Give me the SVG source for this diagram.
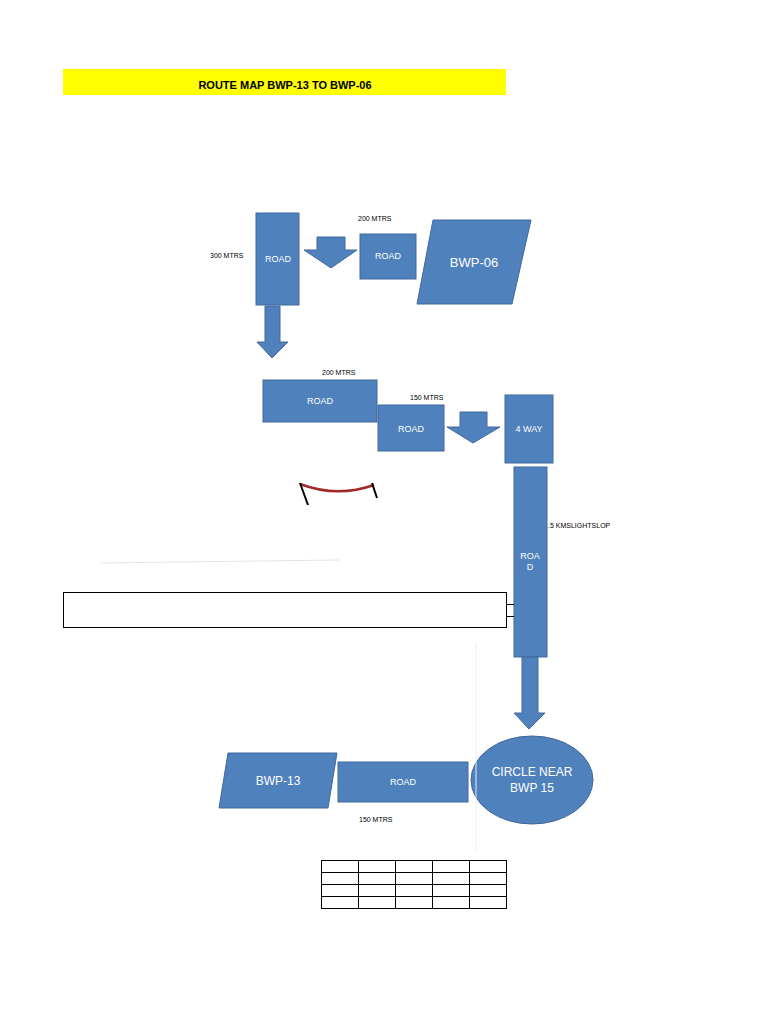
<svg xmlns="http://www.w3.org/2000/svg" width="768" height="1024" viewBox="0 0 768 1024">
<style>
.s{fill:#4f81bd;stroke:#41699b;stroke-width:1}
.w{fill:#fff;font-family:"Liberation Sans",Arial,sans-serif;text-anchor:middle}
.l{fill:#000;font-family:"Liberation Sans",Arial,sans-serif;font-size:7px}
.g{fill:none;stroke:#000;stroke-width:1}
</style>
<rect width="768" height="1024" fill="#fff"/>
<g id="title"><rect x="63" y="69" width="443" height="26" fill="#ffff00"/><text x="285" y="89" font-family="Liberation Sans,Arial,sans-serif" font-size="11" font-weight="bold" text-anchor="middle">ROUTE MAP BWP-13 TO BWP-06</text></g>
<g id="road1"><rect class="s" x="256" y="213" width="43" height="92"/><text class="w" x="278" y="262" font-size="9">ROAD</text></g>
<text class="l" x="210" y="258">300 MTRS</text>
<g id="road2"><rect class="s" x="360" y="234" width="56" height="45"/><text class="w" x="388" y="259" font-size="9">ROAD</text></g>
<text class="l" x="358" y="221">200 MTRS</text>
<g id="bwp06"><polygon class="s" points="433,220 531,220 512,304 417,304"/><text class="w" x="474" y="267" font-size="13">BWP-06</text></g>
<g id="road3"><rect class="s" x="263" y="380" width="114" height="42"/><text class="w" x="320" y="404" font-size="9">ROAD</text></g>
<text class="l" x="322" y="375">200 MTRS</text>
<g id="road4"><rect class="s" x="378" y="405" width="66" height="46"/><text class="w" x="411" y="432" font-size="9">ROAD</text></g>
<text class="l" x="410" y="400">150 MTRS</text>
<g id="fourway"><rect class="s" x="505" y="395" width="48" height="68"/><text class="w" x="529" y="432" font-size="9">4 WAY</text></g>
<g id="road5"><rect class="s" x="514" y="467" width="33" height="190"/><text class="w" x="530" y="559" font-size="9">ROA</text><text class="w" x="530" y="570" font-size="9">D</text></g>
<text class="l" x="548" y="528">.5 KMSLIGHTSLOP</text>
<g id="circle"><ellipse class="s" cx="532" cy="780" rx="61" ry="44"/><text class="w" x="532" y="776" font-size="12">CIRCLE NEAR</text><text class="w" x="532" y="792" font-size="12">BWP 15</text></g>
<g id="road6"><rect class="s" x="338" y="762" width="130" height="40"/><text class="w" x="403" y="785" font-size="9">ROAD</text></g>
<text class="l" x="359" y="822">150 MTRS</text>
<g id="bwp13"><polygon class="s" points="228,753 337,753 328,808 219,808"/><text class="w" x="278" y="785" font-size="12">BWP-13</text></g>
<g id="connectors">
<polygon class="s" points="317,237 345,237 345,250 357,250 331,268 304,250 317,250"/>
<polygon class="s" points="265,306 280,306 280,342 288,342 272,358 257,342 265,342"/>
<polygon class="s" points="460,412 487,412 487,427 500,427 473,443 447,427 460,427"/>
<polygon class="s" points="522,657 538,657 538,713 545,713 529,729 514,713 522,713"/>
</g>
<path d="M300,484 Q337,498 374,485" fill="none" stroke="#a02a2a" stroke-width="2.5"/>
<line x1="300" y1="483" x2="308" y2="505" stroke="#000" stroke-width="2"/>
<line x1="372" y1="483" x2="377" y2="498" stroke="#000" stroke-width="2"/>
<line x1="100" y1="563" x2="340" y2="560" stroke="#e4e4e4" stroke-width="1"/>
<line x1="476" y1="642" x2="476" y2="850" stroke="#eee" stroke-width="1"/>
<rect class="g" x="63.5" y="592.5" width="443" height="35"/>
<path class="g" d="M506.5,604.5H514M506.5,616.5H514"/>
<g id="table" class="g">
<rect x="321.5" y="860.5" width="185" height="48"/>
<path d="M358.5,860.5V908.5M395.5,860.5V908.5M432.5,860.5V908.5M469.5,860.5V908.5M321.5,872.5H506.5M321.5,884.5H506.5M321.5,896.5H506.5"/>
</g>
</svg>
